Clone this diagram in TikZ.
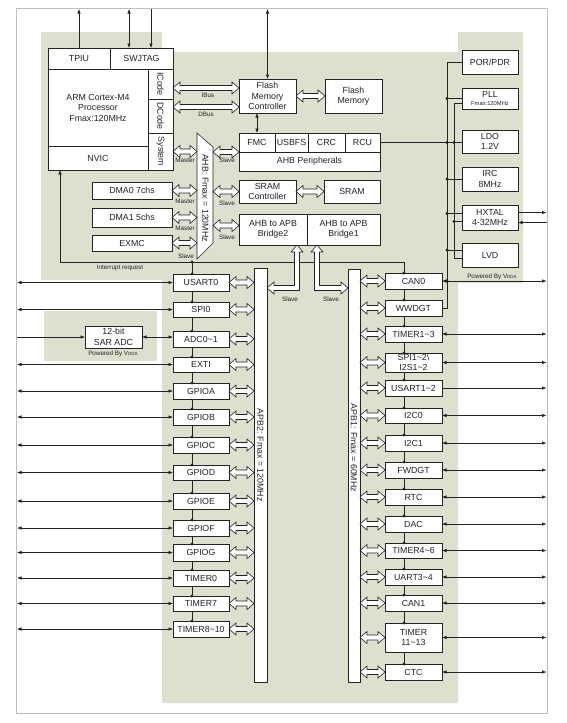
\documentclass[tikz,border=0pt]{standalone}
\usepackage{fontspec}
\setmainfont{Liberation Sans}
\usetikzlibrary{arrows.meta,calc}
\pgfdeclarelayer{back}\pgfdeclarelayer{mid}
\pgfsetlayers{back,mid,main}
\definecolor{bg}{RGB}{221,224,207}
\definecolor{ln}{RGB}{35,35,35}
\definecolor{frm}{RGB}{190,190,190}
\newcommand\fs{\fontsize{8.8}{10.5}\selectfont}
\newcommand\fsm{\fontsize{6.3}{7}\selectfont}
\newcommand\fst{\fontsize{5.8}{6.5}\selectfont}
\newcommand\bx[6]{\node[box, minimum width={(#4-#2)*1pt}, minimum height={(#5-#3)*1pt}] (#1) at ({(#2+#4)/2},{(#3+#5)/2}) {#6};}
\newcommand\harr[2]{\path[hollow] let \p1=#1, \p2=#2 in
  (\x1,\y1) -- (\x1+7pt,\y1+6pt) -- (\x1+7pt,\y1+2.5pt) -- (\x2-7pt,\y1+2.5pt) -- (\x2-7pt,\y1+6pt) -- (\x2,\y1)
  -- (\x2-7pt,\y1-6pt) -- (\x2-7pt,\y1-2.5pt) -- (\x1+7pt,\y1-2.5pt) -- (\x1+7pt,\y1-6pt) -- cycle;}
\newcommand\vdda{Powered By V{\fontsize{4.5}{5}\selectfont DDA}}
\begin{document}
\begin{tikzpicture}[x=1pt,y=-1pt, >={Latex[length=4.5pt,width=3.5pt]},
 box/.style={draw=ln, fill=white, line width=0.6pt, inner sep=0pt, outer sep=0pt, align=center, font=\fs, text=ln},
 hollow/.style={draw=ln, fill=white, line width=0.6pt, line join=miter},
 thin/.style={draw=ln, line width=0.6pt},
 lbl/.style={font=\fsm, text=ln, inner sep=0pt},
 rot/.style={rotate=-90, font=\fs, text=ln, inner sep=0pt},
 dot/.style={fill=ln}]
\useasboundingbox (0,0) rectangle (567,723);

% ---------- core ----------
\bx{tpiu}{48}{48}{110}{69}{TPIU}
\bx{swj}{110}{48}{173}{69}{SWJTAG}
\bx{arm}{48}{69}{148}{146}{ARM Cortex-M4\\Processor\\Fmax:120MHz}
\bx{nvic}{48}{146}{148}{170}{NVIC}
\bx{icode}{148}{69}{173}{99}{}
\bx{dcode}{148}{99}{173}{133}{}
\bx{sys}{148}{133}{173}{170}{}
\node[rot] (ticode) at (icode) {ICode};
\node[rot] (tdcode) at (dcode) {DCode};
\node[rot] (tsys) at (sys) {System};

% ---------- AHB side ----------
\bx{fmc0}{239}{79}{296}{113}{Flash\\Memory\\Controller}
\bx{flash}{325}{79}{382}{113}{Flash\\Memory}
\bx{fmc}{239}{133}{275}{152}{FMC}
\bx{usbfs}{275}{133}{308}{152}{USBFS}
\bx{crc}{308}{133}{345}{152}{CRC}
\bx{rcu}{345}{133}{380}{152}{RCU}
\bx{ahbp}{239}{152}{380}{171}{AHB Peripherals}
\bx{sramc}{239}{180}{296}{203}{SRAM\\Controller}
\bx{sram}{324}{180}{380}{203}{SRAM}
\bx{br2}{239}{214}{307}{245}{AHB to APB\\Bridge2}
\bx{br1}{307}{214}{380}{245}{AHB to APB\\Bridge1}
\bx{dma0}{92}{182}{172}{199}{DMA0 7chs}
\bx{dma1}{92}{208}{172}{227}{DMA1 5chs}
\bx{exmc}{92}{235}{172}{251}{EXMC}

\draw[box] (197,133) -- (213,147) -- (213,243) -- (197,259) -- cycle;
\coordinate (ahbL) at (197,196);
\coordinate (ahbR) at (213,196);
\node[rot] (tahb) at (205.5,198) {AHB: Fmax = 120MHz};

% ---------- power ----------
\bx{por}{462}{50}{518}{74}{POR/PDR}
\bx{pll}{462}{88}{518}{109}{PLL\\[-2pt]{\fst Fmax:120MHz}}
\bx{ldo}{462}{130}{518}{153}{LDO\\1.2V}
\bx{irc}{462}{167}{518}{191}{IRC\\8MHz}
\bx{hxtal}{462}{205}{518}{230}{HXTAL\\4-32MHz}
\bx{lvd}{462}{243}{518}{267}{LVD}
\node[lbl] (pwr1) at (492,277) {\vdda};

% ---------- APB buses ----------
\bx{apb2}{254}{268}{267}{682}{}
\bx{apb1}{348}{269}{360}{682}{}
\node[rot] (tapb2) at (260.5,455) {APB2: Fmax = 120MHz};
\node[rot] (tapb1) at (354,448) {APB1: Fmax = 60MHz};

% ---------- left peripherals ----------
\foreach \n/\a/\b/\t in {usart0/274/291/USART0, spi0/302/317/SPI0, adc/331/347/ADC0\textasciitilde1, exti/357/372/EXTI, gpioa/383/399/GPIOA, gpiob/409/425/GPIOB, gpioc/437/453/GPIOC, gpiod/465/480/GPIOD, gpioe/493/509/GPIOE, gpiof/520/536/GPIOF, gpiog/544/561/GPIOG, timerA/570/586/TIMER0, timerB/596/611/TIMER7, timerC/621/637/TIMER8\textasciitilde10}
 {\bx{\n}{173}{\a}{229}{\b}{\t}}
\bx{sar}{85}{326}{142}{348}{12-bit\\SAR ADC}
\node[lbl] (pwr2) at (113,354) {\vdda};

% ---------- right peripherals ----------
\foreach \n/\a/\b/\t in {can0/273/289/CAN0, wwdgt/300/316/WWDGT, tim1/326/342/TIMER1\textasciitilde3, usart1/380/396/USART1\textasciitilde2, i2c0/408/423/I2C0, i2c1/435/451/I2C1, fwdgt/462/478/FWDGT, rtc/489/505/RTC, dac/516/532/DAC, tim4/543/558/TIMER4\textasciitilde6, uart3/569/585/UART3\textasciitilde4, can1/595/611/CAN1, ctc/664/680/CTC}
 {\bx{\n}{385}{\a}{442}{\b}{\t}}
\bx{spi1}{385}{353}{442}{372}{SPI1\textasciitilde2\textbackslash\\I2S1\textasciitilde2}
\bx{tim11}{385}{623}{442}{652}{TIMER\\11\textasciitilde13}

% ---------- coordinates ----------
\coordinate (topE) at (0,9);
\coordinate (ledge) at (17,0);
\coordinate (redge) at (546.5,0);
\coordinate (lbus) at (192,262);
\coordinate (rbus) at (404,262);
\coordinate (irq) at (60,262);
\coordinate (pa) at (447,0);
\coordinate (pb) at (454,0);
\coordinate (bry) at (0,288);
\coordinate (sj1) at ([xshift=-12.5pt]swj.north);
\coordinate (sj2) at ([xshift=9.5pt]swj.north);
\coordinate (ibus) at ([yshift=-4pt]icode.east);
\coordinate (dbus) at ([yshift=9pt]dcode.east);
\coordinate (pllB) at ([yshift=-4.5pt]pll.west);
\coordinate (hxA) at ([yshift=4pt]hxtal.west);
\coordinate (hxB) at ([yshift=-4pt]hxtal.west);
\coordinate (lvdA) at ([yshift=5pt]lvd.west);
\coordinate (lvdB) at ([yshift=-3pt]lvd.west);
\coordinate (hxO) at ([yshift=5pt]hxtal.east);
\coordinate (hxI) at ([yshift=-5pt]hxtal.east);
\coordinate (brA) at ([xshift=-10pt]br2.south east);
\coordinate (brB) at (apb2.east |- bry);
\coordinate (brC) at ([xshift=10pt]br1.south west);
\coordinate (brD) at (apb1.west |- bry);
\coordinate (brw) at ([yshift=4pt]br2.west);

% ---------- background ----------
\begin{pgfonlayer}{back}
\fill[bg] (41,32) -- (162,32) -- (162,52) -- (458,52) -- (458,32) -- (523,32) -- (523,283) -- (458,283)
  -- (458,703) -- (162,703) -- (162,280) -- (41,280) -- cycle;
\fill[bg] (44,311) rectangle (157,361);
\draw[frm, line width=0.8pt] (16,8) rectangle (547,713);
\end{pgfonlayer}

% ---------- thin lines ----------
\begin{pgfonlayer}{mid}
\draw[thin,->] (tpiu.north) -- (tpiu.north |- topE);
\draw[thin,<->] (sj1 |- topE) -- (sj1);
\draw[thin,<-] (sj2) -- (sj2 |- topE);
\draw[thin,<->] (fmc0.north |- topE) -- (fmc0.north);
\draw[thin,<->] (fmc0.south -| fmc.north) -- (fmc.north);
\draw[thin,->] (rbus |- can0.north) -- (rbus) -- (irq) -- (irq |- nvic.south);
\draw[thin] (lbus) -- (lbus |- timerC.north);
\draw[thin] (rbus |- can0.north) -- (rbus |- ctc.north);
% power lines
\draw[thin] (por.west) -| (pa |- wwdgt.east) -- (wwdgt.east);
\draw[thin] (pll.west) -- (pll.west -| pa);
\draw[thin] (pllB) -| (lvdB -| pb) -- (lvdB);
\draw[thin] (rcu.east) -- (rcu.east -| ldo.west);
\draw[thin] (irc.west) -- (irc.west -| pa);
\draw[thin] (hxA) -- (hxA -| pa);
\draw[thin] (hxB) -- (hxB -| pb);
\draw[thin] (lvdA) -- (lvdA -| pa);
\draw[thin,->] (hxO) -- (hxO -| redge);
\draw[thin,->] (hxI -| redge) -- (hxI);
% external left
\foreach \n in {usart0,spi0,exti,gpioa,gpiob,gpioc,gpiod,gpioe,gpiof,gpiog,timerA,timerB,timerC}
  {\draw[thin,<->] (ledge |- \n.west) -- (\n.west);}
\draw[thin,->] (ledge |- sar.west) -- (sar.west);
\draw[thin,<->] (sar.east) -- (sar.east -| adc.west);
% external right
\foreach \n in {can0,tim1,spi1,i2c0,i2c1,fwdgt,rtc,dac,tim4,uart3,can1,tim11,ctc}
  {\draw[thin,<->] (\n.east) -- (\n.east -| redge);}
\draw[thin,->] (usart1.east) -- (usart1.east -| redge);
\end{pgfonlayer}

% ---------- hollow arrows ----------
\harr{(ibus)}{(ibus -| fmc0.west)}
\harr{(dbus)}{(dbus -| fmc0.west)}
\harr{(fmc0.east)}{(fmc0.east -| flash.west)}
\harr{(sramc.east)}{(sramc.east -| sram.west)}
\harr{(sys.east)}{(sys.east -| ahbL)}
\harr{(dma0.east)}{(dma0.east -| ahbL)}
\harr{(dma1.east)}{(dma1.east -| ahbL)}
\harr{(exmc.east)}{(exmc.east -| ahbL)}
\harr{(ahbR |- fmc.south west)}{(fmc.south west)}
\harr{(ahbR |- sramc.west)}{(sramc.west)}
\harr{(ahbR |- brw)}{(brw)}
\foreach \n in {usart0,spi0,adc,exti,gpioa,gpiob,gpioc,gpiod,gpioe,gpiof,gpiog,timerA,timerB,timerC}
  {\coordinate (ta) at (\n.east); \coordinate (tb) at (\n.east -| apb2.west); \harr{(ta)}{(tb)}}
\foreach \n in {can0,wwdgt,tim1,spi1,usart1,i2c0,i2c1,fwdgt,rtc,dac,tim4,uart3,can1,tim11,ctc}
  {\coordinate (ta) at (\n.west -| apb1.east); \coordinate (tb) at (\n.west); \harr{(ta)}{(tb)}}
% bridge arrows
\path[hollow] let \p1=(brA), \p2=(brB) in
  (\x1,\y1) -- (\x1+6pt,\y1-7pt) -- (\x1+2.5pt,\y1-7pt) -- (\x1+2.5pt,\y2-2.5pt) -- (\x2+7pt,\y2-2.5pt)
  -- (\x2+7pt,\y2-6pt) -- (\x2,\y2) -- (\x2+7pt,\y2+6pt) -- (\x2+7pt,\y2+2.5pt) -- (\x1-2.5pt,\y2+2.5pt)
  -- (\x1-2.5pt,\y1-7pt) -- (\x1-6pt,\y1-7pt) -- cycle;
\path[hollow] let \p1=(brC), \p2=(brD) in
  (\x1,\y1) -- (\x1-6pt,\y1-7pt) -- (\x1-2.5pt,\y1-7pt) -- (\x1-2.5pt,\y2-2.5pt) -- (\x2-7pt,\y2-2.5pt)
  -- (\x2-7pt,\y2-6pt) -- (\x2,\y2) -- (\x2-7pt,\y2+6pt) -- (\x2-7pt,\y2+2.5pt) -- (\x1+2.5pt,\y2+2.5pt)
  -- (\x1+2.5pt,\y1-7pt) -- (\x1+6pt,\y1-7pt) -- cycle;

% ---------- dots ----------
\fill[dot] (lbus) circle[radius=1.6pt];
\foreach \n in {usart0,spi0,adc,exti,gpioa,gpiob,gpioc,gpiod,gpioe,gpiof,gpiog,timerA,timerB,timerC}
  {\fill[dot] (lbus |- \n.north) circle[radius=1.6pt];}
\foreach \n in {can0,wwdgt,tim1,spi1,usart1,i2c0,i2c1,fwdgt,rtc,dac,tim4,uart3,can1,tim11,ctc}
  {\fill[dot] (rbus |- \n.north) circle[radius=1.6pt];}
\foreach \c in {pll.west,rcu.east,irc.west,hxA,lvdA,can0.east}
  {\fill[dot] (pa |- \c) circle[radius=1.6pt];}
\foreach \c in {rcu.east,hxB}
  {\fill[dot] (pb |- \c) circle[radius=1.6pt];}

% ---------- labels ----------
\node[lbl] (libus) at (208,95) {IBus};
\node[lbl] (ldbus) at (206,114) {DBus};
\node[lbl] (lm1) at (185,160) {Master};
\node[lbl] (lm2) at (185,201) {Master};
\node[lbl] (lm3) at (185,228) {Master};
\node[lbl] (ls1) at (186,256) {Slave};
\node[lbl] (ls2) at (227,160) {Slave};
\node[lbl] (ls3) at (227,203) {Slave};
\node[lbl] (ls4) at (227,237) {Slave};
\node[lbl] (ls5) at (290,299) {Slave};
\node[lbl] (ls6) at (331,299) {Slave};
\node[lbl] (lirq) at (120,268) {Interrupt request};
\end{tikzpicture}
\end{document}
